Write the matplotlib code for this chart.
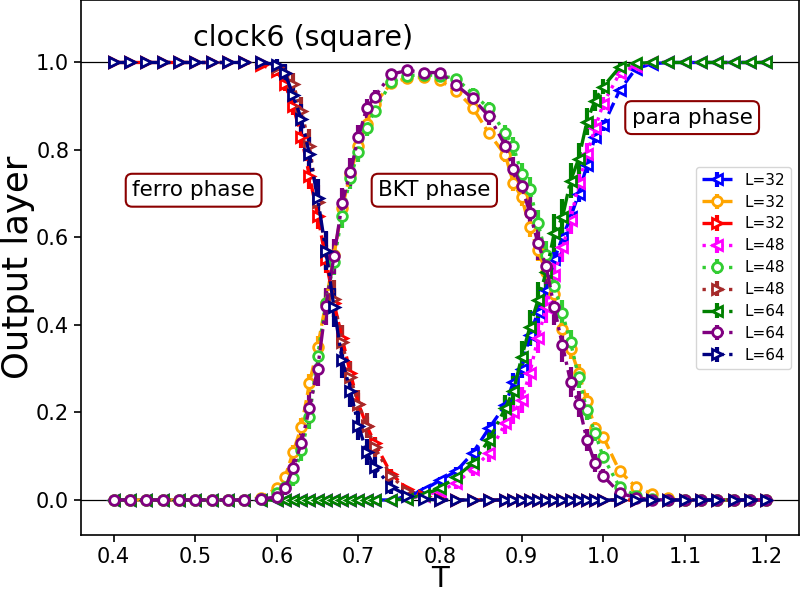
import numpy as np
import matplotlib
matplotlib.use("Agg")
import matplotlib.pyplot as plt

T = [0.40, 0.42, 0.44, 0.46, 0.48, 0.50, 0.52, 0.54, 0.56, 0.58,
     0.60, 0.61, 0.62, 0.63, 0.64, 0.65, 0.66, 0.67, 0.68, 0.69, 0.70, 0.71, 0.72,
     0.74, 0.76, 0.78, 0.80, 0.82, 0.84, 0.86,
     0.88, 0.89, 0.90, 0.91, 0.92, 0.93, 0.94, 0.95, 0.96, 0.97, 0.98, 0.99, 1.00,
     1.02, 1.04, 1.06, 1.08, 1.10, 1.12, 1.14, 1.16, 1.18, 1.20]

Z10 = [0.0] * 10

# L = 32
para_32 = Z10 + [0, 0, 0, 0, 0, 0, 0, 0, 0, 0, 0, 0, 0,
                 0.0, 0.008, 0.023, 0.045, 0.066, 0.107, 0.164,
                 0.217, 0.27, 0.30, 0.376, 0.43, 0.48, 0.55, 0.60, 0.646, 0.70, 0.765, 0.83, 0.856,
                 0.936, 0.986, 0.997, 1.0, 1.0, 1.0, 1.0, 1.0, 1.0, 1.0]
bkt_32 = [0, 0, 0, 0, 0, 0, 0, 0, 0, 0.005,
          0.027, 0.052, 0.11, 0.167, 0.267, 0.35, 0.45, 0.56, 0.667, 0.746, 0.81, 0.86, 0.906,
          0.952, 0.965, 0.966, 0.959, 0.935, 0.897, 0.838,
          0.788, 0.724, 0.692, 0.623, 0.571, 0.52, 0.47, 0.39, 0.345, 0.29, 0.226, 0.164, 0.144,
          0.066, 0.03, 0.014, 0.005, 0, 0, 0, 0, 0, 0]
ferro_32 = [1, 1, 1, 1, 1, 1, 1, 1, 1, 0.995,
            0.98, 0.95, 0.90, 0.83, 0.74, 0.65, 0.55, 0.45, 0.37, 0.29, 0.22, 0.17, 0.13,
            0.06, 0.025, 0.008, 0.002, 0, 0, 0,
            0, 0, 0, 0, 0, 0, 0, 0, 0, 0, 0, 0, 0,
            0, 0, 0, 0, 0, 0, 0, 0, 0, 0]

# L = 48
para_48 = Z10 + [0, 0, 0, 0, 0, 0, 0, 0, 0, 0, 0, 0, 0,
                 0.0, 0.003, 0.01, 0.02, 0.039, 0.07, 0.107,
                 0.175, 0.20, 0.228, 0.29, 0.37, 0.44, 0.514, 0.578, 0.64, 0.724, 0.79, 0.85, 0.906,
                 0.975, 0.993, 1.0, 1.0, 1.0, 1.0, 1.0, 1.0, 1.0, 1.0]
bkt_48 = [0, 0, 0, 0, 0, 0, 0, 0, 0, 0.003,
          0.015, 0.03, 0.05, 0.114, 0.19, 0.33, 0.45, 0.545, 0.65, 0.737, 0.795, 0.85, 0.89,
          0.955, 0.97, 0.972, 0.97, 0.963, 0.929, 0.895,
          0.838, 0.808, 0.745, 0.71, 0.633, 0.56, 0.49, 0.427, 0.36, 0.28, 0.205, 0.153, 0.098,
          0.03, 0.01, 0.003, 0.001, 0, 0, 0, 0, 0, 0]
ferro_48 = [1, 1, 1, 1, 1, 1, 1, 1, 1, 1,
            0.99, 0.975, 0.95, 0.89, 0.81, 0.68, 0.57, 0.46, 0.36, 0.28, 0.22, 0.17, 0.12,
            0.055, 0.02, 0.005, 0.001, 0, 0, 0,
            0, 0, 0, 0, 0, 0, 0, 0, 0, 0, 0, 0, 0,
            0, 0, 0, 0, 0, 0, 0, 0, 0, 0]

# L = 64
para_64 = Z10 + [0, 0, 0, 0, 0, 0, 0, 0, 0, 0, 0, 0, 0,
                 0.0, 0.003, 0.012, 0.027, 0.053, 0.084, 0.137,
                 0.21, 0.25, 0.326, 0.395, 0.457, 0.52, 0.61, 0.646, 0.73, 0.78, 0.865, 0.913, 0.945,
                 0.989, 0.998, 1.0, 1.0, 1.0, 1.0, 1.0, 1.0, 1.0, 1.0]
bkt_64 = [0, 0, 0, 0, 0, 0, 0, 0, 0, 0.002,
          0.007, 0.027, 0.072, 0.13, 0.21, 0.30, 0.443, 0.557, 0.678, 0.749, 0.83, 0.895, 0.922,
          0.973, 0.982, 0.977, 0.977, 0.948, 0.918, 0.877,
          0.81, 0.756, 0.717, 0.657, 0.587, 0.534, 0.44, 0.354, 0.27, 0.219, 0.137, 0.084, 0.055,
          0.016, 0.005, 0.001, 0, 0, 0, 0, 0, 0, 0]
ferro_64 = [1, 1, 1, 1, 1, 1, 1, 1, 1, 1,
            0.995, 0.975, 0.925, 0.87, 0.79, 0.69, 0.57, 0.44, 0.32, 0.25, 0.17, 0.11, 0.075,
            0.03, 0.01, 0.002, 0, 0, 0, 0,
            0, 0, 0, 0, 0, 0, 0, 0, 0, 0, 0, 0, 0,
            0, 0, 0, 0, 0, 0, 0, 0, 0, 0]

# error bars
Z = [0.0]
para_32_err = Z * 23 + [0.0, 0.004, 0.006, 0.008, 0.01, 0.012, 0.015,
                        0.018, 0.02, 0.022, 0.024, 0.025, 0.025, 0.025, 0.024, 0.022, 0.02, 0.018, 0.015, 0.012,
                        0.008, 0.004, 0.002] + Z * 7
bkt_32_err = Z * 9 + [0.003, 0.006, 0.01, 0.015, 0.02, 0.022, 0.024, 0.025, 0.024, 0.022, 0.02, 0.018, 0.015, 0.012,
                      0.008, 0.006, 0.006, 0.006, 0.008, 0.01, 0.012,
                      0.015, 0.018, 0.02, 0.022, 0.024, 0.025, 0.025, 0.024, 0.022, 0.02, 0.018, 0.015, 0.012,
                      0.008, 0.005, 0.003, 0.001] + Z * 6
ferro_32_err = Z * 9 + [0.004, 0.01, 0.015, 0.02, 0.025, 0.03, 0.03, 0.032, 0.032, 0.03, 0.028, 0.025, 0.02, 0.015,
                        0.01, 0.005, 0.002, 0.001] + Z * 26
para_48_err = Z * 23 + [0.0, 0.005, 0.008, 0.01, 0.013, 0.016, 0.02,
                        0.024, 0.027, 0.03, 0.032, 0.034, 0.035, 0.035, 0.034, 0.032, 0.03, 0.026, 0.02, 0.015,
                        0.01, 0.005, 0.002] + Z * 7
bkt_48_err = Z * 9 + [0.003, 0.008, 0.012, 0.018, 0.024, 0.028, 0.03, 0.032, 0.03, 0.028, 0.026, 0.022, 0.018, 0.014,
                      0.01, 0.008, 0.008, 0.008, 0.01, 0.012, 0.015,
                      0.018, 0.022, 0.025, 0.028, 0.03, 0.032, 0.032, 0.03, 0.028, 0.025, 0.022, 0.018, 0.014,
                      0.01, 0.006, 0.003, 0.001] + Z * 6
ferro_48_err = Z * 9 + [0.005, 0.012, 0.02, 0.026, 0.032, 0.038, 0.04, 0.042, 0.042, 0.04, 0.036, 0.032, 0.028, 0.022,
                        0.014, 0.008, 0.003, 0.001] + Z * 26
para_64_err = Z * 23 + [0.0, 0.005, 0.01, 0.012, 0.016, 0.02, 0.025,
                        0.03, 0.034, 0.038, 0.04, 0.042, 0.044, 0.044, 0.042, 0.04, 0.036, 0.03, 0.024, 0.018,
                        0.01, 0.005, 0.002] + Z * 7
bkt_64_err = Z * 9 + [0.004, 0.01, 0.016, 0.024, 0.03, 0.036, 0.04, 0.042, 0.04, 0.036, 0.032, 0.028, 0.022, 0.016,
                      0.01, 0.008, 0.008, 0.008, 0.012, 0.016, 0.02,
                      0.024, 0.028, 0.032, 0.035, 0.038, 0.04, 0.04, 0.038, 0.035, 0.03, 0.025, 0.02, 0.015,
                      0.01, 0.006, 0.003, 0.001] + Z * 6
ferro_64_err = Z * 9 + [0.006, 0.014, 0.022, 0.03, 0.036, 0.04, 0.044, 0.045, 0.045, 0.042, 0.038, 0.034, 0.03, 0.024,
                        0.016, 0.008, 0.003, 0.001] + Z * 26

series = [
    (para_32, para_32_err, "blue", "<", "--", "L=32"),
    (bkt_32, bkt_32_err, "orange", "o", "--", "L=32"),
    (ferro_32, ferro_32_err, "red", ">", "--", "L=32"),
    (para_48, para_48_err, "magenta", "<", ":", "L=48"),
    (bkt_48, bkt_48_err, "limegreen", "o", ":", "L=48"),
    (ferro_48, ferro_48_err, "brown", ">", ":", "L=48"),
    (para_64, para_64_err, "green", "<", "-.", "L=64"),
    (bkt_64, bkt_64_err, "purple", "o", "-.", "L=64"),
    (ferro_64, ferro_64_err, "navy", ">", "-.", "L=64"),
]

fig = plt.figure(figsize=(8.0, 5.97), dpi=100)
ax = fig.add_axes([0.1013, 0.1039, 0.8975, 0.8955])

ax.axhline(0.0, color="black", lw=0.9, zorder=0.5)
ax.axhline(1.0, color="black", lw=0.9, zorder=0.5)

for vals, errs, col, mk, ls, lab in series:
    ax.errorbar(T, vals, yerr=errs, color=col, marker=mk, linestyle=ls, lw=2.4,
                elinewidth=3, capsize=0, markersize=7, markeredgewidth=2,
                markerfacecolor="white", markeredgecolor=col, label=lab)

ax.set_xlim(0.36, 1.24)
ax.set_ylim(-0.08, 1.142)
ax.set_xticks([0.4, 0.5, 0.6, 0.7, 0.8, 0.9, 1.0, 1.1, 1.2])
ax.set_yticks([0.0, 0.2, 0.4, 0.6, 0.8, 1.0])
ax.tick_params(labelsize=15, length=5, width=1.2)
for s in ax.spines.values():
    s.set_linewidth(1.2)

ax.set_xlabel("T", fontsize=21, labelpad=-1)
ax.set_ylabel("Output layer", fontsize=25.5, labelpad=1)

ax.text(0.632, 1.055, "clock6 (square)", fontsize=20.5, ha="center", va="center")
box = dict(boxstyle="round", facecolor="white", edgecolor="darkred", linewidth=1.5)
ax.text(0.498, 0.708, "ferro phase", fontsize=15.5, ha="center", va="center", bbox=box)
ax.text(0.793, 0.708, "BKT phase", fontsize=15.5, ha="center", va="center", bbox=box)
ax.text(1.109, 0.874, "para phase", fontsize=15.5, ha="center", va="center", bbox=box)

ax.legend(loc="center right", fontsize=11, labelspacing=0.45)

fig.savefig("out.png", dpi=100)
